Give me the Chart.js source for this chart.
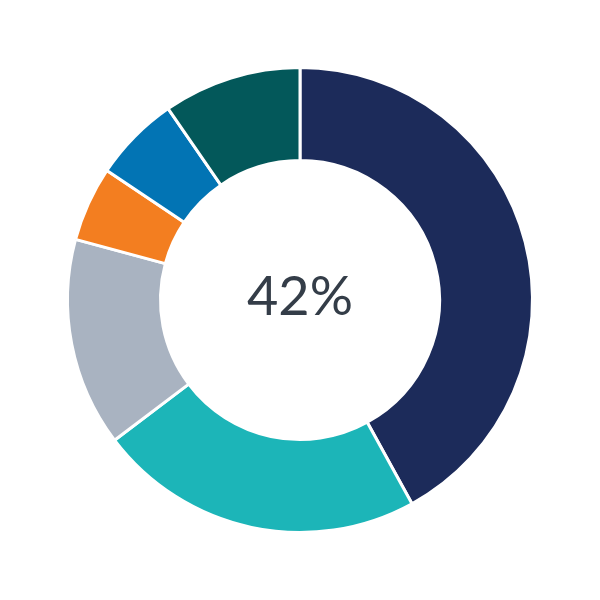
<!DOCTYPE html>
<html>
<head>
<meta charset="utf-8">
<script src="https://cdn.jsdelivr.net/npm/chart.js@4"></script>
<style>
  html, body { margin: 0; padding: 0; background: #fff; }
  #wrap { width: 600px; height: 600px; }
</style>
</head>
<body>
<div id="wrap"><canvas id="myChart"></canvas></div>
<script>
// Datos del gráfico (en porcentaje, sentido horario desde arriba)
const categorias = ['A', 'B', 'C', 'D', 'E', 'F'];
const valores = [42, 22.7, 14.5, 5.2, 6, 9.6];
const colores = ['#1c2b5a', '#1cb5b8', '#a9b3c1', '#f37e20', '#0274b4', '#03585a'];
const textoCentro = '42%';

// Plugin para el texto del centro
const textoCentral = {
    id: 'textoCentral',
    afterDraw(chart) {
        const { ctx } = chart;
        const meta = chart.getDatasetMeta(0).data[0];
        ctx.save();
        ctx.font = '400 54px Lato, "Open Sans", sans-serif';
        ctx.fillStyle = '#343d48';
        ctx.textAlign = 'center';
        ctx.textBaseline = 'middle';
        ctx.fillText(textoCentro, meta.x, meta.y - 2);
        ctx.restore();
    }
};

const config = {
    type: 'doughnut',
    data: {
        labels: categorias,
        datasets: [{
            data: valores,
            backgroundColor: colores,
            borderColor: '#ffffff',
            borderWidth: 3
        }]
    },
    options: {
        responsive: true,
        maintainAspectRatio: false,
        animation: false,
        cutout: '60%',
        plugins: {
            legend: { display: false },
            tooltip: { enabled: false }
        },
        layout: {
            padding: 66
        }
    },
    plugins: [textoCentral]
};

const myChart = new Chart(document.getElementById('myChart'), config);
</script>
</body>
</html>
